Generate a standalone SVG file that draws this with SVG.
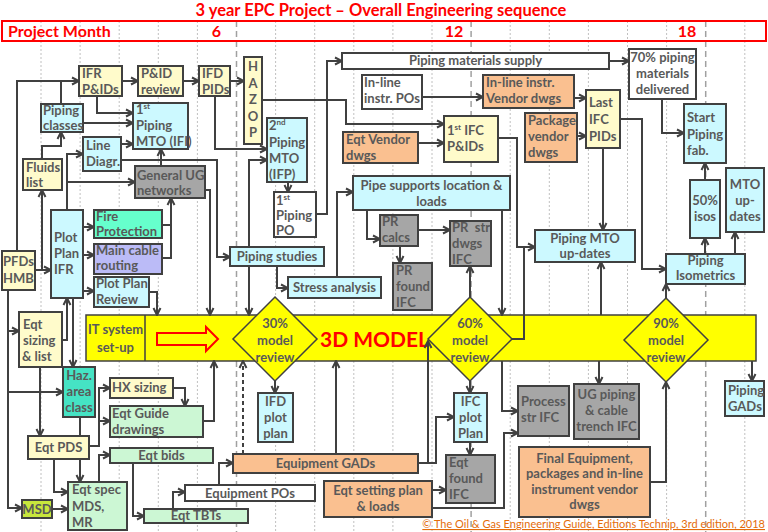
<svg xmlns="http://www.w3.org/2000/svg" width="768" height="532" viewBox="0 0 768 532">
<defs>
<style>
.t{font-family:Lato,'Liberation Sans',sans-serif;font-weight:700;font-size:13px;fill:#595959}
.m{text-anchor:middle}
.bx{stroke:#404040;stroke-width:2}
.y{fill:#FFFBCB}.c{fill:#CCF9FF}.g{fill:#A6A6A6}.o{fill:#FAC090}.w{fill:#FFFFFF}.lg{fill:#CCF7D4}
.cn{fill:none;stroke:#404040;stroke-width:2;marker-end:url(#ah)}
.ln{fill:none;stroke:#404040;stroke-width:2}
.gl{stroke:#C0C0C0;stroke-width:1;stroke-dasharray:2 2}
.gd{stroke:#A0A0A0;stroke-width:1.5;stroke-dasharray:6 4}
.red{font-family:Lato,'Liberation Sans',sans-serif;font-weight:700;fill:#FF0000}
.sup{font-size:8px}
</style>
<marker id="ah" markerWidth="10" markerHeight="10" viewBox="0 0 10 10" refX="9" refY="5" orient="auto-start-reverse" markerUnits="userSpaceOnUse">
<path d="M2,1.5 L9,5 L2,8.5" fill="none" stroke="#404040" stroke-width="2"/>
</marker>
</defs>
<rect width="768" height="532" fill="#FFFFFF"/>
<g id="grid">
<line class="gl" x1="41" y1="21" x2="41" y2="532"/>
<line class="gl" x1="80.1" y1="21" x2="80.1" y2="532"/>
<line class="gl" x1="119.2" y1="21" x2="119.2" y2="532"/>
<line class="gl" x1="158.3" y1="21" x2="158.3" y2="532"/>
<line class="gl" x1="197.4" y1="21" x2="197.4" y2="532"/>
<line class="gd" x1="236.5" y1="21" x2="236.5" y2="532"/>
<line class="gl" x1="275.6" y1="21" x2="275.6" y2="532"/>
<line class="gl" x1="314.7" y1="21" x2="314.7" y2="532"/>
<line class="gl" x1="353.8" y1="21" x2="353.8" y2="532"/>
<line class="gl" x1="392.9" y1="21" x2="392.9" y2="532"/>
<line class="gl" x1="432" y1="21" x2="432" y2="532"/>
<line class="gd" x1="471.1" y1="21" x2="471.1" y2="532"/>
<line class="gl" x1="510.2" y1="21" x2="510.2" y2="532"/>
<line class="gl" x1="549.3" y1="21" x2="549.3" y2="532"/>
<line class="gl" x1="588.4" y1="21" x2="588.4" y2="532"/>
<line class="gl" x1="627.5" y1="21" x2="627.5" y2="532"/>
<line class="gl" x1="666.6" y1="21" x2="666.6" y2="532"/>
<line class="gd" x1="705.7" y1="21" x2="705.7" y2="532"/>
<line class="gl" x1="744.8" y1="21" x2="744.8" y2="532"/>
</g>
<g id="header">
<text class="red m" x="381" y="16" font-size="16.5">3 year EPC Project – Overall Engineering sequence</text>
<rect x="2" y="21" width="764" height="20" fill="none" stroke="#FF0000" stroke-width="2"/>
<text class="red" x="8" y="36.5" font-size="16">Project Month</text>
<text class="red m" x="216.5" y="36.5" font-size="16">6</text>
<text class="red m" x="454" y="36.5" font-size="16">12</text>
<text class="red m" x="687" y="36.5" font-size="16">18</text>
</g>
<g id="model-band">
<rect x="86" y="315" width="670" height="46" fill="#FFFF00" stroke="#404040" stroke-width="1.5"/>
<line x1="145" y1="315" x2="145" y2="361" stroke="#404040" stroke-width="1.5"/>
<text class="t m" x="115.5" y="334">IT system</text>
<text class="t m" x="115.5" y="352">set-up</text>
<polygon points="157,333 206,333 206,327 218,339 206,351 206,345 157,345" fill="none" stroke="#FF0000" stroke-width="2"/>
<text class="red" x="320" y="347" font-size="21">3D MODEL</text>
</g>
<g id="connectors">
<polyline class="cn" points="17,251 17,81 79,81"/>
<polyline class="ln" points="61,81 61,104"/>
<polyline class="cn" points="42,159 42,146 61,146 61,132"/>
<polyline class="cn" points="122,81 138,81"/>
<polyline class="cn" points="183,81 199,81"/>
<polyline class="cn" points="230,81 244,81"/>
<polyline class="cn" points="97,96 97,113 133,113"/>
<polyline class="cn" points="83,123 133,123"/>
<polyline class="cn" points="121,144 133,144"/>
<polyline class="cn" points="161,166 161,149"/>
<polyline class="cn" points="121,160 217,160 217,257 230,257"/>
<polyline class="cn" points="67,210 67,154 83,154"/>
<polyline class="cn" points="67,182 135,182"/>
<polyline class="cn" points="35,270 51,270"/>
<polyline class="cn" points="42,270 42,190"/>
<polyline class="cn" points="8,290 8,508 22,508"/>
<polyline class="cn" points="8,331 19,331"/>
<polyline class="cn" points="8,392 63,392"/>
<polyline class="cn" points="62,340 67,340 67,298"/>
<polyline class="cn" points="73,298 73,367"/>
<polyline class="cn" points="40,367 40,436"/>
<polyline class="ln" points="80,417 80,436"/>
<polyline class="cn" points="80,459 80,482"/>
<polyline class="cn" points="54,459 54,492 68,492"/>
<polyline class="cn" points="52,509 68,509"/>
<polyline class="cn" points="89,446 99,446 99,388 110,388"/>
<polyline class="cn" points="99,421 110,421"/>
<polyline class="cn" points="173,388 185,388 185,406"/>
<polyline class="cn" points="203,421 214,421 214,361"/>
<polyline class="cn" points="99,482 99,455 110,455"/>
<polyline class="cn" points="133,463 133,516 144,516"/>
<polyline class="cn" points="173,509 173,492 185,492"/>
<polyline class="cn" points="219,485 219,463 233,463"/>
<polyline class="cn" points="243,454 243,361" stroke-dasharray="4 3"/>
<polyline class="cn" points="336,454 336,361"/>
<polyline class="cn" points="418,463 428,463 428,341"/>
<polyline class="cn" points="428,463 436,463 436,417 454,417"/>
<polyline class="cn" points="470,381 470,393"/>
<polyline class="cn" points="275,381 275,393"/>
<polyline class="cn" points="470,442 470,455"/>
<polyline class="cn" points="432,490 446,490"/>
<polyline class="cn" points="432,508 504,508 504,433 518,433"/>
<polyline class="cn" points="502,361 502,411 518,411"/>
<polyline class="cn" points="599,361 599,384"/>
<polyline class="cn" points="650,482 666,482 666,382"/>
<polyline class="cn" points="752,361 752,381"/>
<polyline class="cn" points="162,225 171,225 171,198"/>
<polyline class="ln" points="162,258 171,258 171,225"/>
<polyline class="cn" points="83,227 94,227"/>
<polyline class="cn" points="83,255 94,255"/>
<polyline class="cn" points="83,291 94,291"/>
<polyline class="cn" points="149,292 157,292 157,315"/>
<polyline class="cn" points="205,190 210,190 210,315"/>
<polyline class="cn" points="249,315 249,160 267,160" marker-start="url(#ah)"/>
<polyline class="cn" points="215,96 215,149 267,149"/>
<polyline class="cn" points="262,100 346,100 346,124 444,124"/>
<polyline class="cn" points="288,182 288,192"/>
<polyline class="cn" points="316,214 327,214 327,61 342,61"/>
<polyline class="cn" points="277,266 277,288 288,288"/>
<polyline class="cn" points="337,277 337,192 353,192"/>
<polyline class="cn" points="367,210 367,239 380,239"/>
<polyline class="cn" points="418,230 450,230"/>
<polyline class="cn" points="400,246 400,263"/>
<polyline class="cn" points="470,297 470,266"/>
<polyline class="cn" points="502,210 502,315"/>
<polyline class="cn" points="498,138 517,138 517,247 535,247"/>
<polyline class="ln" points="512,339 524,339 524,247"/>
<polyline class="cn" points="603,148 603,230"/>
<polyline class="cn" points="601,315 601,262"/>
<polyline class="cn" points="620,119 642,119 642,269 666,269"/>
<polyline class="cn" points="422,97 483,97" stroke-width="1.3"/>
<polyline class="cn" points="574,98 586,98"/>
<polyline class="cn" points="577,136 586,136"/>
<polyline class="cn" points="609,61 629,61"/>
<polyline class="cn" points="662,99 662,133 684,133"/>
<polyline class="cn" points="705,180 705,163"/>
<polyline class="cn" points="705,254 705,238"/>
<polyline class="cn" points="735,254 735,232"/>
<polyline class="cn" points="666,298 666,284"/>
<polyline class="cn" points="418,143 444,143"/>
</g>
<g id="n-ifr-pids"><rect class="bx y" x="79" y="66" width="43" height="30"/><text class="t" x="82" y="77.5">IFR</text><text class="t" x="82" y="93.5">P&amp;IDs</text></g>
<g id="n-pid-review"><rect class="bx y" x="138" y="66" width="45" height="30"/><text class="t" x="141" y="77.5">P&amp;ID</text><text class="t" x="141" y="93.5">review</text></g>
<g id="n-ifd-pids"><rect class="bx y" x="199" y="66" width="31" height="30"/><text class="t" x="202" y="77.5">IFD</text><text class="t" x="202" y="93.5">PIDs</text></g>
<g id="n-hazop"><rect class="bx y" x="244" y="57" width="18" height="87"/><text class="t m" x="253" y="71">H</text><text class="t m" x="253" y="87.5">A</text><text class="t m" x="253" y="104">Z</text><text class="t m" x="253" y="120.5">O</text><text class="t m" x="253" y="137">P</text></g>
<g id="n-piping-classes"><rect class="bx c" x="41" y="104" width="42" height="28"/><text class="t" x="43" y="115" font-size="12.5">Piping</text><text class="t" x="43" y="130" font-size="12.5">classes</text></g>
<g id="n-mto-ifi"><rect class="bx c" x="133" y="103" width="55" height="46"/><text class="t" x="136" y="114">1<tspan class="sup" dy="-5">st</tspan></text><text class="t" x="136" y="130">Piping</text><text class="t" x="136" y="146" font-size="12">MTO (IFI)</text></g>
<g id="n-line-diagr"><rect class="bx c" x="83" y="137" width="38" height="34"/><text class="t" x="86" y="150">Line</text><text class="t" x="86" y="166">Diagr.</text></g>
<g id="n-fluids-list"><rect class="bx y" x="23" y="159" width="39" height="31"/><text class="t" x="26" y="172">Fluids</text><text class="t" x="26" y="187">list</text></g>
<g id="n-general-ug"><rect class="bx g" x="135" y="166" width="70" height="32"/><text class="t" x="137" y="180" font-size="12.5">General UG</text><text class="t" x="137" y="195" font-size="12.5">networks</text></g>
<g id="n-plot-plan-ifr"><rect class="bx c" x="51" y="210" width="32" height="88"/><text class="t" x="54" y="242">Plot</text><text class="t" x="54" y="258">Plan</text><text class="t" x="54" y="274">IFR</text></g>
<g id="n-fire"><rect class="bx" fill="#66FFCC" x="94" y="210" width="68" height="28"/><text class="t" x="96" y="221">Fire</text><text class="t" x="96" y="236">Protection</text></g>
<g id="n-cable"><rect class="bx" fill="#BBBBF7" x="94" y="244" width="68" height="30"/><text class="t" x="96" y="255">Main cable</text><text class="t" x="96" y="270">routing</text></g>
<g id="n-plot-review"><rect class="bx c" x="94" y="277" width="55" height="30"/><text class="t" x="96" y="288">Plot Plan</text><text class="t" x="96" y="304">Review</text></g>
<g id="n-pfds"><rect class="bx y" x="2" y="251" width="33" height="39"/><text class="t m" x="18.5" y="266">PFDs</text><text class="t m" x="18.5" y="283">HMB</text></g>
<g id="n-eqt-sizing"><rect class="bx y" x="19" y="312" width="43" height="55"/><text class="t" x="23" y="329">Eqt</text><text class="t" x="23" y="345">sizing</text><text class="t" x="22" y="361">&amp; list</text></g>
<g id="n-haz"><rect class="bx" fill="#45E3C4" x="63" y="367" width="32" height="50"/><text class="t m" x="79" y="380">Haz.</text><text class="t m" x="79" y="396">area</text><text class="t m" x="79" y="412">class</text></g>
<g id="n-hx"><rect class="bx y" x="110" y="378" width="63" height="20"/><text class="t" x="112" y="392">HX sizing</text></g>
<g id="n-eqt-guide"><rect class="bx lg" x="110" y="406" width="93" height="31"/><text class="t" x="112" y="418">Eqt Guide</text><text class="t" x="112" y="434">drawings</text></g>
<g id="n-eqt-pds"><rect class="bx y" x="28" y="436" width="61" height="23"/><text class="t m" x="58.5" y="452">Eqt PDS</text></g>
<g id="n-eqt-bids"><rect class="bx lg" x="110" y="448" width="103" height="15"/><text class="t m" x="161.5" y="460">Eqt bids</text></g>
<g id="n-eqt-spec"><rect class="bx lg" x="68" y="482" width="59" height="48"/><text class="t" x="72" y="494">Eqt spec</text><text class="t" x="72" y="511">MDS,</text><text class="t" x="72" y="527">MR</text></g>
<g id="n-msd"><rect class="bx" fill="#C8E63C" x="22" y="500" width="30" height="18"/><text class="t m" x="37" y="514">MSD</text></g>
<g id="n-eqt-tbts"><rect class="bx lg" x="144" y="509" width="104" height="14"/><text class="t m" x="196" y="520">Eqt TBTs</text></g>
<g id="n-eqt-pos"><rect class="bx w" x="185" y="485" width="130" height="16"/><text class="t m" x="250" y="498">Equipment POs</text></g>
<g id="n-eqt-gads"><rect class="bx o" x="233" y="454" width="185" height="19"/><text class="t m" x="325.5" y="468">Equipment GADs</text></g>
<g id="n-ifd-plot"><rect class="bx c" x="258" y="393" width="35" height="49"/><text class="t m" x="275.5" y="406">IFD</text><text class="t m" x="275.5" y="422">plot</text><text class="t m" x="275.5" y="438">plan</text></g>
<g id="n-ifc-plot"><rect class="bx c" x="454" y="393" width="33" height="49"/><text class="t m" x="470.5" y="406">IFC</text><text class="t m" x="470.5" y="422">plot</text><text class="t m" x="470.5" y="438">Plan</text></g>
<g id="n-eqt-found"><rect class="bx g" x="446" y="455" width="49" height="48"/><text class="t" x="449" y="467">Eqt</text><text class="t" x="449" y="483">found</text><text class="t" x="449" y="499">IFC</text></g>
<g id="n-eqt-setting"><rect class="bx o" x="324" y="481" width="108" height="36"/><text class="t m" x="378" y="495">Eqt setting plan</text><text class="t m" x="378" y="511">&amp; loads</text></g>
<g id="n-process-str"><rect class="bx g" x="518" y="386" width="51" height="50"/><text class="t" x="521" y="406">Process</text><text class="t" x="521" y="422">str IFC</text></g>
<g id="n-ug-piping"><rect class="bx g" x="574" y="384" width="65" height="55"/><text class="t m" x="606.5" y="399">UG piping</text><text class="t m" x="606.5" y="415">&amp; cable</text><text class="t m" x="606.5" y="431">trench IFC</text></g>
<g id="n-final-eqt"><rect class="bx o" x="519" y="447" width="131" height="70"/><text class="t m" x="584.5" y="463">Final Equipment,</text><text class="t m" x="584.5" y="478">packages and in-line</text><text class="t m" x="584.5" y="494">instrument vendor</text><text class="t m" x="584.5" y="509">dwgs</text></g>
<g id="n-piping-gads"><rect class="bx c" x="725" y="381" width="39" height="35"/><text class="t" x="728" y="395">Piping</text><text class="t" x="728" y="411">GADs</text></g>
<g id="n-piping-supply"><rect class="bx w" x="342" y="53" width="267" height="16"/><text class="t m" x="475.5" y="65">Piping materials supply</text></g>
<g id="n-inline-pos"><rect class="bx w" x="362" y="75" width="60" height="34"/><text class="t" x="364" y="87">In-line</text><text class="t" x="364" y="103">instr. POs</text></g>
<g id="n-inline-vendor"><rect class="bx o" x="483" y="75" width="91" height="33"/><text class="t" x="486" y="87">In-line instr.</text><text class="t" x="486" y="103">Vendor dwgs</text></g>
<g id="n-last-ifc"><rect class="bx y" x="586" y="90" width="34" height="58"/><text class="t" x="589" y="107">Last</text><text class="t" x="589" y="124">IFC</text><text class="t" x="589" y="141">PIDs</text></g>
<g id="n-package-vendor"><rect class="bx o" x="525" y="113" width="52" height="49"/><text class="t" x="528" y="125">Package</text><text class="t" x="528" y="141">vendor</text><text class="t" x="528" y="157">dwgs</text></g>
<g id="n-70pct"><rect class="bx w" x="629" y="49" width="67" height="50"/><text class="t m" x="662.5" y="62">70% piping</text><text class="t m" x="662.5" y="78">materials</text><text class="t m" x="662.5" y="94">delivered</text></g>
<g id="n-start-fab"><rect class="bx c" x="684" y="104" width="42" height="59"/><text class="t" x="687" y="122">Start</text><text class="t" x="687" y="139">Piping</text><text class="t" x="687" y="155">fab.</text></g>
<g id="n-50isos"><rect class="bx c" x="690" y="180" width="30" height="58"/><text class="t m" x="705" y="205">50%</text><text class="t m" x="705" y="221">isos</text></g>
<g id="n-mto-updates-r"><rect class="bx c" x="726" y="168" width="38" height="64"/><text class="t m" x="745" y="189">MTO</text><text class="t m" x="745" y="205">up-</text><text class="t m" x="745" y="221">dates</text></g>
<g id="n-isometrics"><rect class="bx c" x="666" y="254" width="79" height="30"/><text class="t m" x="705.5" y="265">Piping</text><text class="t m" x="705.5" y="280">Isometrics</text></g>
<g id="n-piping-mto-updates"><rect class="bx c" x="535" y="230" width="100" height="32"/><text class="t m" x="585" y="243">Piping MTO</text><text class="t m" x="585" y="258">up-dates</text></g>
<g id="n-1st-ifc"><rect class="bx y" x="444" y="116" width="54" height="46"/><text class="t" x="447" y="135">1<tspan class="sup" dy="-5">st</tspan><tspan dy="5"> IFC</tspan></text><text class="t" x="447" y="151">P&amp;IDs</text></g>
<g id="n-eqt-vendor"><rect class="bx o" x="343" y="132" width="75" height="31"/><text class="t" x="346" y="144">Eqt Vendor</text><text class="t" x="346" y="160">dwgs</text></g>
<g id="n-pipe-supports"><rect class="bx c" x="353" y="176" width="157" height="34"/><text class="t m" x="431.5" y="190">Pipe supports location &amp;</text><text class="t m" x="431.5" y="206">loads</text></g>
<g id="n-pr-calcs"><rect class="bx g" x="380" y="215" width="38" height="31"/><text class="t" x="382" y="226">PR</text><text class="t" x="382" y="242">calcs</text></g>
<g id="n-pr-found"><rect class="bx g" x="393" y="263" width="39" height="47"/><text class="t" x="396" y="275">PR</text><text class="t" x="396" y="291">found</text><text class="t" x="396" y="307">IFC</text></g>
<g id="n-pr-str"><rect class="bx g" x="450" y="221" width="41" height="45"/><text class="t" x="452" y="232" xml:space="preserve">PR  str</text><text class="t" x="452" y="248">dwgs</text><text class="t" x="452" y="264">IFC</text></g>
<g id="n-mto-ifp"><rect class="bx c" x="267" y="118" width="40" height="64"/><text class="t" x="269" y="130">2<tspan class="sup" dy="-5">nd</tspan></text><text class="t" x="269" y="147">Piping</text><text class="t" x="269" y="163">MTO</text><text class="t" x="269" y="179">(IFP)</text></g>
<g id="n-piping-po"><rect class="bx w" x="274" y="192" width="42" height="45"/><text class="t" x="276" y="205">1<tspan class="sup" dy="-5">st</tspan></text><text class="t" x="276" y="220">Piping</text><text class="t" x="276" y="235">PO</text></g>
<g id="n-piping-studies"><rect class="bx c" x="230" y="247" width="94" height="19"/><text class="t m" x="277" y="261">Piping studies</text></g>
<g id="n-stress"><rect class="bx c" x="288" y="277" width="93" height="21"/><text class="t m" x="334.5" y="292">Stress analysis</text></g>
<g id="n-review-30"><polygon points="275,297 317,339 275,381 233,339" fill="#FFFF00" stroke="#404040" stroke-width="1.5"/><text class="t m" x="275" y="328">30%</text><text class="t m" x="275" y="345">model</text><text class="t m" x="275" y="362">review</text></g>
<g id="n-review-60"><polygon points="470,297 512,339 470,381 428,339" fill="#FFFF00" stroke="#404040" stroke-width="1.5"/><text class="t m" x="470" y="328">60%</text><text class="t m" x="470" y="345">model</text><text class="t m" x="470" y="362">review</text></g>
<g id="n-review-90"><polygon points="666,298 708,340 666,382 624,340" fill="#FFFF00" stroke="#404040" stroke-width="1.5"/><text class="t m" x="666" y="328">90%</text><text class="t m" x="666" y="345">model</text><text class="t m" x="666" y="362">review</text></g>
<text x="765" y="528" text-anchor="end" font-family="Lato,'Liberation Sans',sans-serif" font-size="11" fill="#E46C0A" text-decoration="underline">© The Oil &amp; Gas Engineering Guide, Editions Technip, 3rd edition, 2018</text>
</svg>
